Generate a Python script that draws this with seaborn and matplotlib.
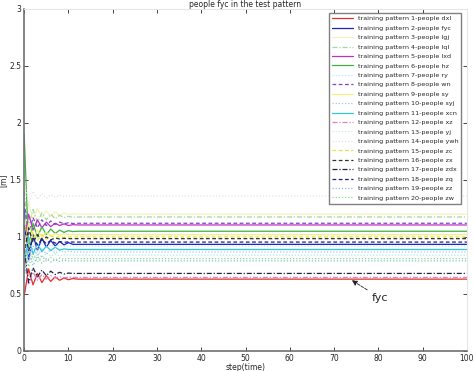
import numpy as np
import pandas as pd
import seaborn as sns
import matplotlib
matplotlib.use("Agg")
import matplotlib.pyplot as plt

# legend names of the 20 training patterns
names = ["dxl", "fyc", "lgj", "lql", "lxd", "hz", "ry", "wn", "sy", "syj",
         "xcn", "xz", "yj", "ywh", "zc", "zx", "zdx", "zq", "zz", "zw"]
labels = ["training pattern %d-people %s" % (i + 1, n) for i, n in enumerate(names)]

# first 12 steps (transient)
heads = [
    [0.48, 0.72, 0.58, 0.68, 0.60, 0.66, 0.61, 0.65, 0.62, 0.64, 0.625, 0.635],
    [1.25, 0.80, 1.02, 0.88, 0.99, 0.91, 0.97, 0.92, 0.96, 0.93, 0.95, 0.935],
    [1.05, 1.30, 1.15, 1.25, 1.17, 1.23, 1.18, 1.22, 1.19, 1.21, 1.195, 1.205],
    [1.40, 1.10, 1.24, 1.13, 1.21, 1.15, 1.20, 1.16, 1.19, 1.17, 1.18, 1.172],
    [0.95, 1.20, 1.06, 1.15, 1.08, 1.13, 1.09, 1.12, 1.10, 1.115, 1.10, 1.108],
    [1.90, 0.90, 1.12, 1.00, 1.09, 1.02, 1.07, 1.03, 1.06, 1.04, 1.055, 1.047],
    [0.70, 0.95, 0.80, 0.88, 0.82, 0.86, 0.83, 0.85, 0.835, 0.845, 0.84, 0.84],
    [1.30, 1.02, 1.17, 1.08, 1.15, 1.10, 1.14, 1.11, 1.13, 1.115, 1.125, 1.118],
    [0.90, 1.12, 0.98, 1.06, 1.00, 1.04, 1.01, 1.03, 1.015, 1.025, 1.02, 1.02],
    [1.10, 0.78, 0.92, 0.83, 0.90, 0.85, 0.89, 0.86, 0.88, 0.865, 0.875, 0.868],
    [0.75, 1.00, 0.85, 0.94, 0.87, 0.92, 0.88, 0.91, 0.885, 0.895, 0.89, 0.89],
    [0.80, 0.58, 0.69, 0.62, 0.67, 0.63, 0.66, 0.64, 0.65, 0.642, 0.648, 0.645],
    [1.05, 0.85, 0.95, 0.89, 0.94, 0.91, 0.93, 0.915, 0.925, 0.918, 0.922, 0.92],
    [1.50, 1.28, 1.40, 1.33, 1.38, 1.34, 1.37, 1.35, 1.365, 1.355, 1.36, 1.36],
    [1.15, 0.92, 1.04, 0.97, 1.02, 0.98, 1.01, 0.99, 1.005, 0.995, 1.0, 1.0],
    [0.85, 1.08, 0.95, 1.02, 0.97, 1.00, 0.975, 0.99, 0.982, 0.988, 0.985, 0.985],
    [0.90, 0.60, 0.73, 0.65, 0.71, 0.66, 0.70, 0.67, 0.69, 0.675, 0.683, 0.68],
    [1.10, 0.88, 0.99, 0.93, 0.98, 0.94, 0.97, 0.945, 0.96, 0.952, 0.957, 0.955],
    [0.65, 0.88, 0.75, 0.83, 0.77, 0.81, 0.78, 0.80, 0.785, 0.795, 0.79, 0.79],
    [0.95, 0.74, 0.85, 0.78, 0.83, 0.79, 0.82, 0.80, 0.815, 0.805, 0.81, 0.81],
]
# steady value each pattern settles to
finals = [0.63, 0.935, 1.20, 1.175, 1.105, 1.05, 0.84, 1.12, 1.02, 0.868,
          0.89, 0.645, 0.92, 1.36, 1.0, 0.985, 0.68, 0.955, 0.79, 0.81]

colors = ["#e03030", "#2020c0", "#f2f2c0", "#a0d8a0", "#c030c0", "#40b040",
          "#b0e8f0", "#8040d0", "#f0f080", "#a8c8f0", "#30c8d8", "#e080c0",
          "#c0f0f0", "#e4e4e4", "#e8e040", "#303030", "#202040", "#202080",
          "#80c8c8", "#90d890"]
solid, dash, dot, dashdot = "", (3, 2), (1, 1.5), (4, 1.5, 1, 1.5)
styles = [solid, solid, solid, dashdot, solid, solid, dot, dash, solid, dot,
          solid, dashdot, dot, dot, dash, dash, dashdot, dash, dot, dot]

steps = np.arange(0, 101)
rows = []
for lab, h, f in zip(labels, heads, finals):
    vals = h + [f] * (len(steps) - len(h))
    for s, v in zip(steps, vals):
        rows.append((lab, s, v))
df = pd.DataFrame(rows, columns=["pattern", "step", "value"])

sns.set_style("ticks")
plt.rcParams["font.family"] = ["DejaVu Sans"]

fig = plt.figure(figsize=(4.74, 3.71), dpi=100)
ax = fig.add_axes([0.051, 0.054, 0.934, 0.922])

sns.lineplot(data=df, x="step", y="value", hue="pattern", style="pattern",
             palette=dict(zip(labels, colors)), dashes=dict(zip(labels, styles)),
             linewidth=0.9, ax=ax)

handles, labs = ax.get_legend_handles_labels()
ax.legend(handles, labs, loc="upper right", fontsize=4.6, frameon=True,
          fancybox=False, edgecolor="#606060", handlelength=3.2,
          labelspacing=0.62, borderpad=0.5, bbox_to_anchor=(0.995, 0.998))

ax.set_xlim(0, 100)
ax.set_ylim(0, 3)
ax.set_xticks(np.arange(0, 101, 10))
ax.set_yticks(np.arange(0, 3.01, 0.5))
ax.set_yticklabels(["0", "0.5", "1", "1.5", "2", "2.5", "3"])
ax.tick_params(direction="in", labelsize=5.5, length=3, width=0.6,
               top=True, right=True, pad=2)
for side in ["left", "bottom"]:
    ax.spines[side].set_color("#707070")
    ax.spines[side].set_linewidth(1.2)
for side in ["top", "right"]:
    ax.spines[side].set_color("#e6e6e6")

ax.set_title("people fyc in the test pattern", fontsize=5.5, pad=1.5)
ax.set_xlabel("step(time)", fontsize=5.5, labelpad=0.5)
ax.set_ylabel("[m]", fontsize=5.5, labelpad=1)

ax.annotate("fyc", xy=(74, 0.62), xytext=(78.5, 0.44), fontsize=8,
            arrowprops=dict(arrowstyle="-|>", linestyle="--", color="#202020",
                            lw=0.6, shrinkA=1, shrinkB=0))

fig.savefig("out.png", dpi=100)
